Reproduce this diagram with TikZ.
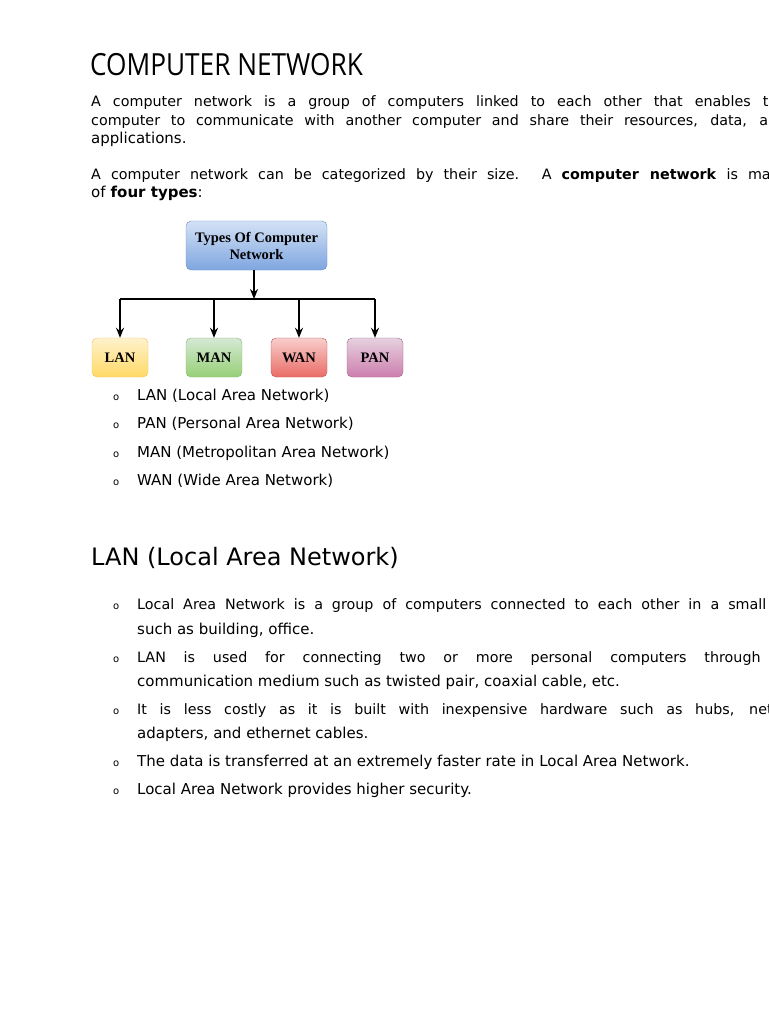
\documentclass[tikz,border=0pt]{standalone}
\usepackage{fontspec}
\setmainfont{DejaVu Sans}
\newfontfamily\titlefont{Open Sans}
\newfontfamily\serifb{Liberation Serif}
\usetikzlibrary{arrows.meta}
\definecolor{bT}{HTML}{D4E1F5}\definecolor{bB}{HTML}{7EA6E0}\definecolor{bD}{HTML}{6C8EBF}
\definecolor{yT}{HTML}{FFF2CC}\definecolor{yB}{HTML}{FFD966}\definecolor{yD}{HTML}{F0C05A}
\definecolor{gT}{HTML}{D5E8D4}\definecolor{gB}{HTML}{97D077}\definecolor{gD}{HTML}{82B366}
\definecolor{rT}{HTML}{F8CECC}\definecolor{rB}{HTML}{EA6B66}\definecolor{rD}{HTML}{B85450}
\definecolor{pT}{HTML}{E6D0DE}\definecolor{pB}{HTML}{CD7FAE}\definecolor{pD}{HTML}{996185}
\begin{document}
\begin{tikzpicture}[x=1pt,y=-1pt,
  txt/.style={anchor=base west,inner sep=0pt,font=\fontsize{15}{16}\selectfont},
  jtxt/.style={anchor=base west,inner sep=0pt,font=\fontsize{14.3}{16}\selectfont},
  bul/.style={anchor=base west,inner sep=0pt,font=\fontsize{10}{11}\selectfont},
  box/.style={draw,rounded corners=5pt,inner sep=0pt,font=\serifb\bfseries\fontsize{14.5}{17}\selectfont,align=center},
  conn/.style={line width=1.5pt,-{Stealth[length=10pt,width=8pt]}}]
\useasboundingbox (0,0) rectangle (768,1024);
\clip (0,0) rectangle (768,1024);
\node[anchor=base west,inner sep=0pt,font=\titlefont\fontsize{30.5}{32}\selectfont] (title) at (90,76) {\addfontfeature{FakeStretch=0.86}COMPUTER NETWORK};
\node[jtxt] (p1) at (91,107) {\makebox[695pt][s]{A computer network is a group of computers linked to each other that enables the}};
\node[jtxt] (p2) at (91,126) {\makebox[695pt][s]{computer to communicate with another computer and share their resources, data, and}};
\node[txt] (p3) at (91,144) {applications.};
\node[jtxt] (p4) at (91,180) {\makebox[705pt][s]{A computer network can be categorized by their size. A \textbf{computer network} is mainly}};
\node[txt] (p5) at (91,198) {of \textbf{four types}:};
% diagram
\node[box,draw=bD,top color=bT,bottom color=bB,minimum width=141pt,minimum height=49pt] (top) at (256.5,245.5) {Types Of Computer\\Network};
\node[box,draw=yD,top color=yT,bottom color=yB,minimum width=56pt,minimum height=39pt] (lan) at (120,357.5) {LAN};
\node[box,draw=gD,top color=gT,bottom color=gB,minimum width=56pt,minimum height=39pt] (man) at (214,357.5) {MAN};
\node[box,draw=rD,top color=rT,bottom color=rB,minimum width=56pt,minimum height=39pt] (wan) at (299,357.5) {WAN};
\node[box,draw=pD,top color=pT,bottom color=pB,minimum width=56pt,minimum height=39pt] (pan) at (375,357.5) {PAN};
\coordinate (bus) at (254,299);
\draw[conn] (254,270) -- (bus);
\draw[line width=1.5pt] (120,299) -- (375,299);
\foreach \n in {lan,man,wan,pan}{\draw[conn] (\n.north |- bus) -- (\n.north);}
% bullets list
\foreach \y/\t in {400/LAN (Local Area Network),428/PAN (Personal Area Network),457/MAN (Metropolitan Area Network),485/WAN (Wide Area Network)}{
  \node[bul] at (113,\y) {o};
  \node[txt] at (137,\y) {\t};}
\node[anchor=base west,inner sep=0pt,font=\fontsize{24}{26}\selectfont] (h2) at (91,565) {LAN (Local Area Network)};
\foreach \y in {609,662,714,766,794}{\node[bul] at (113,\y) {o};}
\node[jtxt] at (137,609) {\makebox[670pt][s]{Local Area Network is a group of computers connected to each other in a small area}};
\node[txt] at (137,634) {such as building, office.};
\node[jtxt] at (137,662) {\makebox[650pt][s]{LAN is used for connecting two or more personal computers through a}};
\node[txt] at (137,686) {communication medium such as twisted pair, coaxial cable, etc.};
\node[jtxt] at (137,714) {\makebox[670pt][s]{It is less costly as it is built with inexpensive hardware such as hubs, network}};
\node[txt] at (137,738) {adapters, and ethernet cables.};
\node[txt] at (137,766) {The data is transferred at an extremely faster rate in Local Area Network.};
\node[txt] at (137,794) {Local Area Network provides higher security.};
\end{tikzpicture}
\end{document}
